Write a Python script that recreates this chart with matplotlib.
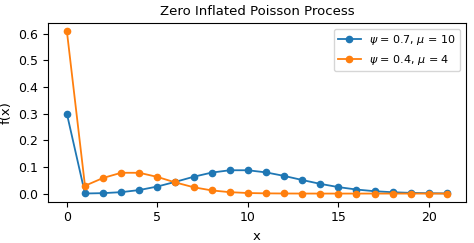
import matplotlib

matplotlib.use("Agg")
import matplotlib.pyplot as plt  # noqa: E402

X = list(range(22))

# psi = 0.7, mu = 10
F_BLUE = [0.300, 0.0003, 0.0016, 0.0053, 0.0132, 0.0265, 0.0441, 0.0631,
          0.0788, 0.0876, 0.0876, 0.0796, 0.0664, 0.0510, 0.0365, 0.0243,
          0.0152, 0.0089, 0.0050, 0.0026, 0.0013, 0.0006]

# psi = 0.4, mu = 4
F_ORANGE = [0.610, 0.0293, 0.0586, 0.0781, 0.0781, 0.0625, 0.0417, 0.0238,
            0.0119, 0.0053, 0.0021, 0.0008, 0.0003, 0.0001, 0.0, 0.0,
            0.0, 0.0, 0.0, 0.0, 0.0, 0.0]

LABELS = [r"$\psi$ = 0.7, $\mu$ = 10", r"$\psi$ = 0.4, $\mu$ = 4"]

plt.rcParams["font.size"] = 9

fig, ax = plt.subplots(figsize=(4.74, 2.43), dpi=100)
ax.plot(X, F_BLUE, "-o", color="#1f77b4", ms=4.5, lw=1.3, label=LABELS[0])
ax.plot(X, F_ORANGE, "-o", color="#ff7f0e", ms=4.5, lw=1.3, label=LABELS[1])
ax.set_title("Zero Inflated Poisson Process", fontsize=9.5)
ax.set_xlabel("x", fontsize=9.5)
ax.set_ylabel("f(x)", fontsize=9.5)
ax.set_xticks([0, 5, 10, 15, 20])
ax.legend(loc="upper right", fontsize=8)
fig.subplots_adjust(left=0.101, right=0.983, top=0.905, bottom=0.17)
fig.savefig("out.png", dpi=100)
